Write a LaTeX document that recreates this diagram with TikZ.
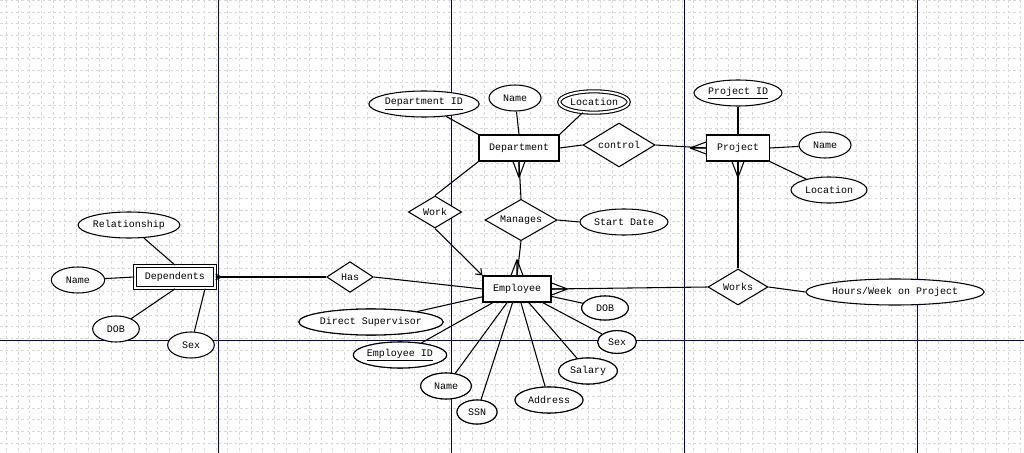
\documentclass[tikz,border=0pt]{standalone}
\usepackage{fontspec}
\setmainfont{Liberation Mono}
\usetikzlibrary{shapes.geometric,calc,arrows.meta}
\tikzset{
 ent/.style={draw,thick,fill=white,minimum height=19.5pt,inner sep=1pt,font=\fontsize{7.5}{8}\selectfont},
 att/.style={draw,thick,ellipse,fill=white,inner sep=0pt,minimum height=19.5pt,font=\fontsize{7.5}{8}\selectfont},
 rel/.style={draw,thick,diamond,fill=white,aspect=1.7,inner sep=1pt,font=\fontsize{7.5}{8}\selectfont},
 ln/.style={thick}
}
\newcommand\crowft[3]{\draw[ln] ($(#1)+(#2)$) -- ($(#1)+(#3)$) ($(#1)+(#2)$) -- (#1) ($(#1)+(#2)$) -- ($(#1)-(#3)$);}
\begin{document}
\begin{tikzpicture}[x=0.75pt,y=-0.75pt]
\fill[white] (0,0) rectangle (1024,453);
\useasboundingbox (0,0) rectangle (1024,453);
\foreach \i in {0,...,88} {\draw[black!15,dashed,dash pattern=on 2pt off 2pt,line width=0.3pt] ({\i*11.65-5.5},0) -- ({\i*11.65-5.5},453);}
\foreach \j in {0,...,39} {\draw[black!15,dashed,dash pattern=on 2pt off 2pt,line width=0.3pt] (0,{\j*11.65+0.2}) -- (1024,{\j*11.65+0.2});}
\foreach \x in {218,451,684,917} {\draw[blue!55!black,line width=0.6pt] (\x,0) -- (\x,453);}
\draw[blue!55!black,line width=0.6pt] (0,340) -- (1024,340);

% nodes
\node[ent,minimum width=60pt] (dept) at (519,148) {Department};
\node[att,minimum width=78pt] (did) at (424,104) {\underline{Department ID}};
\node[att,minimum width=39pt] (dname) at (515,98) {Name};
\node[att,minimum width=52pt,double,double distance=1.5pt,minimum height=16pt] (dloc) at (594,102) {Location};
\node[rel,minimum width=54pt,minimum height=33pt] (ctrl) at (619,145) {control};
\node[ent,minimum width=47pt] (proj) at (738,148) {Project};
\node[att,minimum width=66pt] (pid) at (738,93) {\underline{Project ID}};
\node[att,minimum width=39pt] (pname) at (825,145) {Name};
\node[att,minimum width=57pt] (ploc) at (829,190) {Location};
\node[rel,minimum width=40pt,minimum height=24pt] (work) at (435,212) {Work};
\node[rel,minimum width=54pt,minimum height=31pt] (mng) at (521,220) {Manages};
\node[att,minimum width=66pt] (sd) at (624,222) {Start Date};
\node[ent,minimum width=51pt] (emp) at (517,289) {Employee};
\node[rel,minimum width=45pt,minimum height=27pt] (works) at (738,287) {Works};
\node[att,minimum width=114pt] (hw) at (895,292) {Hours/Week on Project};
\node[rel,minimum width=35pt,minimum height=23pt] (has) at (350,277) {Has};
\node[ent,minimum width=60pt,double,double distance=1.5pt,minimum height=17pt] (dep) at (175,277) {Dependents};
\node[att,minimum width=75pt] (rel) at (129,225) {Relationship};
\node[att,minimum width=40pt] (depn) at (78,280) {Name};
\node[att,minimum width=35pt] (depdob) at (116,329) {DOB};
\node[att,minimum width=35pt] (depsex) at (191,345) {Sex};
\node[att,minimum width=98pt] (ds) at (371,322) {Direct Supervisor};
\node[att,minimum width=65pt] (eid) at (400,355) {\underline{Employee ID}};
\node[att,minimum width=38pt] (ename) at (446,386) {Name};
\node[att,minimum width=30pt,minimum height=18pt] (ssn) at (477,412) {SSN};
\node[att,minimum width=51pt] (addr) at (549,400) {Address};
\node[att,minimum width=44pt] (sal) at (588,371) {Salary};
\node[att,minimum width=29pt,minimum height=17pt] (esex) at (617,342) {Sex};
\node[att,minimum width=35pt,minimum height=18pt] (edob) at (605,308) {DOB};

% connectors
\draw[ln] (did) -- (dept.north west);
\draw[ln] (dname) -- (dept.north);
\draw[ln] (dloc) -- (dept.north east);
\draw[ln] (dept.east) -- (ctrl.west);
\draw[ln] (ctrl.east) -- (proj.west);
\crowft{proj.west}{-16,0}{0,6}
\draw[ln] (pid) -- (proj.north);
\draw[ln] (pname) -- (proj.east);
\draw[ln] (ploc) -- (proj.south east);
\draw[ln] (proj.south) -- (works.north);
\crowft{proj.south}{0,16}{6,0}
\draw[ln] (dept.south) -- (mng.north);
\crowft{dept.south}{0,16}{6,0}
\draw[ln] (mng.south) -- (emp.north);
\crowft{emp.north}{0,-16}{6,0}
\draw[ln] (mng.east) -- (sd.west);
\draw[ln] (dept.south west) -- (work.north);
\draw[ln,-{Straight Barb[length=4pt,width=6pt]}] (work.south) -- (emp.north west);
\draw[ln] (emp.east) -- (works.west);
\crowft{emp.east}{16,0}{0,6}
\draw[ln] (works.east) -- (hw.west);
\draw[ln] (has.east) -- (emp.west);
\draw[ln] (dep.east) -- (has.west);
\crowft{dep.east}{6,0}{0,3}
\draw[ln] (rel) -- (dep.north);
\draw[ln] (depn) -- (dep.west);
\draw[ln] (depdob) -- (dep.south);
\draw[ln] (depsex) -- ($(dep.south)+(30,0)$);
\foreach \a in {ds,eid,ename,ssn,addr,sal,esex,edob} {\draw[ln] (emp) -- (\a);}
\node[ent,minimum width=51pt] at (517,289) {Employee};
\foreach \a/\t/\w in {ds/Direct Supervisor/98pt,ename/Name/38pt,addr/Address/51pt,sal/Salary/44pt} {\node[att,minimum width=\w] at (\a) {\t};}
\node[att,minimum width=65pt] at (eid) {\underline{Employee ID}};
\node[att,minimum width=30pt,minimum height=18pt] at (ssn) {SSN};
\node[att,minimum width=29pt,minimum height=17pt] at (esex) {Sex};
\node[att,minimum width=35pt,minimum height=18pt] at (edob) {DOB};
\end{tikzpicture}
\end{document}
